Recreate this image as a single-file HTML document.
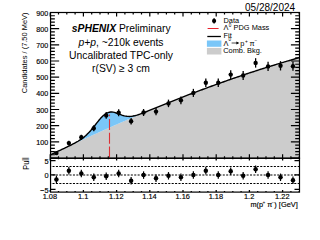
<!DOCTYPE html><html><head><meta charset="utf-8"><style>html,body{margin:0;padding:0;background:#fff;width:315px;height:226px;overflow:hidden}svg{display:block}text{font-family:"Liberation Sans",sans-serif;fill:#000}text.b{stroke:#000;stroke-width:0.15px}</style></head><body>
<svg width="315" height="226" viewBox="0 0 315 226">
<rect width="315" height="226" fill="#fff"/>
<polygon points="50.55,158.0 50.55,154.81 51.80,154.21 53.05,153.62 54.30,153.02 55.55,152.42 56.81,151.83 58.06,151.24 59.31,150.64 60.56,150.05 61.81,149.46 63.06,148.87 64.31,148.28 65.56,147.69 66.81,147.10 68.06,146.52 69.32,145.93 70.57,145.35 71.82,144.76 73.07,144.18 74.32,143.60 75.57,143.02 76.82,142.44 78.07,141.86 79.32,141.28 80.57,140.70 81.83,140.12 83.08,139.55 84.33,138.97 85.58,138.40 86.83,137.83 88.08,137.25 89.33,136.68 90.58,136.11 91.83,135.54 93.08,134.98 94.34,134.41 95.59,133.84 96.84,133.28 98.09,132.71 99.34,132.15 100.59,131.59 101.84,131.03 103.09,130.47 104.34,129.91 105.59,129.35 106.85,128.79 108.10,128.24 109.35,127.68 110.60,127.13 111.85,126.57 113.10,126.02 114.35,125.47 115.60,124.92 116.85,124.37 118.10,123.82 119.36,123.28 120.61,122.73 121.86,122.19 123.11,121.64 124.36,121.10 125.61,120.56 126.86,120.02 128.11,119.48 129.36,118.94 130.61,118.40 131.87,117.87 133.12,117.33 134.37,116.80 135.62,116.27 136.87,115.73 138.12,115.20 139.37,114.67 140.62,114.15 141.87,113.62 143.12,113.09 144.38,112.57 145.63,112.04 146.88,111.52 148.13,111.00 149.38,110.48 150.63,109.96 151.88,109.44 153.13,108.93 154.38,108.41 155.63,107.90 156.89,107.38 158.14,106.87 159.39,106.36 160.64,105.85 161.89,105.34 163.14,104.83 164.39,104.33 165.64,103.82 166.89,103.32 168.14,102.82 169.40,102.31 170.65,101.81 171.90,101.32 173.15,100.82 174.40,100.32 175.65,99.83 176.90,99.33 178.15,98.84 179.40,98.35 180.65,97.86 181.91,97.37 183.16,96.88 184.41,96.39 185.66,95.91 186.91,95.43 188.16,94.94 189.41,94.46 190.66,93.98 191.91,93.50 193.16,93.03 194.42,92.55 195.67,92.07 196.92,91.60 198.17,91.13 199.42,90.66 200.67,90.19 201.92,89.72 203.17,89.25 204.42,88.79 205.67,88.32 206.93,87.86 208.18,87.40 209.43,86.94 210.68,86.48 211.93,86.02 213.18,85.57 214.43,85.11 215.68,84.66 216.93,84.21 218.18,83.75 219.44,83.31 220.69,82.86 221.94,82.41 223.19,81.97 224.44,81.52 225.69,81.08 226.94,80.64 228.19,80.20 229.44,79.76 230.69,79.32 231.95,78.89 233.20,78.45 234.45,78.02 235.70,77.59 236.95,77.16 238.20,76.73 239.45,76.31 240.70,75.88 241.95,75.46 243.20,75.04 244.46,74.61 245.71,74.19 246.96,73.78 248.21,73.36 249.46,72.95 250.71,72.53 251.96,72.12 253.21,71.71 254.46,71.30 255.71,70.89 256.97,70.49 258.22,70.08 259.47,69.68 260.72,69.28 261.97,68.88 263.22,68.48 264.47,68.08 265.72,67.69 266.97,67.29 268.22,66.90 269.48,66.51 270.73,66.12 271.98,65.73 273.23,65.34 274.48,64.96 275.73,64.58 276.98,64.20 278.23,63.82 279.48,63.44 280.73,63.06 281.99,62.68 283.24,62.31 284.49,61.94 285.74,61.57 286.99,61.20 288.24,60.83 289.49,60.47 290.74,60.10 291.99,59.74 293.24,59.38 294.50,59.02 295.75,58.66 297.00,58.31 298.25,57.95 299.50,57.60 299.5,158.0" fill="#cccccc"/>
<polygon points="50.55,154.81 51.30,154.45 52.05,154.09 52.81,153.73 53.56,153.38 54.31,153.02 55.06,152.66 55.81,152.30 56.56,151.94 57.32,151.59 58.07,151.23 58.82,150.87 59.57,150.52 60.32,150.16 61.07,149.80 61.83,149.45 62.58,149.09 63.33,148.73 64.08,148.38 64.83,148.02 65.58,147.66 66.34,147.30 67.09,146.94 67.84,146.58 68.59,146.22 69.34,145.85 70.09,145.48 70.85,145.11 71.60,144.74 72.35,144.36 73.10,143.98 73.85,143.59 74.60,143.19 75.36,142.79 76.11,142.37 76.86,141.95 77.61,141.51 78.36,141.06 79.11,140.60 79.87,140.12 80.62,139.62 81.37,139.10 82.12,138.56 82.87,138.00 83.62,137.41 84.38,136.80 85.13,136.16 85.88,135.49 86.63,134.80 87.38,134.07 88.13,133.32 88.89,132.53 89.64,131.72 90.39,130.88 91.14,130.01 91.89,129.12 92.64,128.21 93.40,127.28 94.15,126.33 94.90,125.37 95.65,124.41 96.40,123.45 97.15,122.49 97.91,121.54 98.66,120.61 99.41,119.70 100.16,118.82 100.91,117.98 101.66,117.17 102.42,116.41 103.17,115.70 103.92,115.04 104.67,114.45 105.42,113.91 106.17,113.44 106.93,113.04 107.68,112.70 108.43,112.44 109.18,112.24 109.93,112.10 110.68,112.02 111.44,112.01 112.19,112.05 112.94,112.14 113.69,112.28 114.44,112.45 115.19,112.66 115.95,112.90 116.70,113.17 117.45,113.44 118.20,113.73 118.95,114.03 119.70,114.32 120.46,114.61 121.21,114.89 121.96,115.15 122.71,115.40 123.46,115.62 124.21,115.82 124.97,115.99 125.72,116.14 126.47,116.26 127.22,116.35 127.97,116.41 128.72,116.43 129.48,116.44 130.23,116.41 130.98,116.35 131.73,116.27 132.48,116.17 133.23,116.04 133.99,115.89 134.74,115.72 135.49,115.54 136.24,115.34 136.99,115.12 137.74,114.89 138.50,114.65 139.25,114.39 140.00,114.13 140.00,114.41 139.25,114.73 138.50,115.04 137.74,115.36 136.99,115.68 136.24,116.00 135.49,116.32 134.74,116.64 133.99,116.96 133.23,117.28 132.48,117.60 131.73,117.92 130.98,118.25 130.23,118.57 129.48,118.89 128.72,119.21 127.97,119.54 127.22,119.86 126.47,120.19 125.72,120.51 124.97,120.84 124.21,121.16 123.46,121.49 122.71,121.81 121.96,122.14 121.21,122.47 120.46,122.80 119.70,123.12 118.95,123.45 118.20,123.78 117.45,124.11 116.70,124.44 115.95,124.77 115.19,125.10 114.44,125.43 113.69,125.76 112.94,126.09 112.19,126.42 111.44,126.76 110.68,127.09 109.93,127.42 109.18,127.75 108.43,128.09 107.68,128.42 106.93,128.76 106.17,129.09 105.42,129.42 104.67,129.76 103.92,130.10 103.17,130.43 102.42,130.77 101.66,131.11 100.91,131.44 100.16,131.78 99.41,132.12 98.66,132.46 97.91,132.79 97.15,133.13 96.40,133.47 95.65,133.81 94.90,134.15 94.15,134.49 93.40,134.83 92.64,135.18 91.89,135.52 91.14,135.86 90.39,136.20 89.64,136.54 88.89,136.89 88.13,137.23 87.38,137.57 86.63,137.92 85.88,138.26 85.13,138.61 84.38,138.95 83.62,139.30 82.87,139.64 82.12,139.99 81.37,140.33 80.62,140.68 79.87,141.03 79.11,141.37 78.36,141.72 77.61,142.07 76.86,142.42 76.11,142.77 75.36,143.12 74.60,143.47 73.85,143.81 73.10,144.16 72.35,144.51 71.60,144.87 70.85,145.22 70.09,145.57 69.34,145.92 68.59,146.27 67.84,146.62 67.09,146.98 66.34,147.33 65.58,147.68 64.83,148.04 64.08,148.39 63.33,148.74 62.58,149.10 61.83,149.45 61.07,149.81 60.32,150.16 59.57,150.52 58.82,150.88 58.07,151.23 57.32,151.59 56.56,151.95 55.81,152.30 55.06,152.66 54.31,153.02 53.56,153.38 52.81,153.73 52.05,154.09 51.30,154.45 50.55,154.81" fill="#7ac6f8"/>
<line x1="109.5" y1="157.6" x2="109.5" y2="114.4" stroke="#dc3034" stroke-width="1.1" stroke-dasharray="11 2.8"/>
<polyline points="50.55,154.81 51.80,154.21 53.05,153.62 54.30,153.02 55.55,152.42 56.81,151.83 58.06,151.23 59.31,150.64 60.56,150.05 61.81,149.45 63.06,148.86 64.31,148.27 65.56,147.67 66.81,147.07 68.06,146.47 69.32,145.86 70.57,145.25 71.82,144.63 73.07,143.99 74.32,143.34 75.57,142.67 76.82,141.97 78.07,141.24 79.32,140.46 80.57,139.65 81.83,138.78 83.08,137.84 84.33,136.84 85.58,135.76 86.83,134.61 88.08,133.37 89.33,132.05 90.58,130.66 91.83,129.19 93.08,127.66 94.34,126.09 95.59,124.50 96.84,122.90 98.09,121.32 99.34,119.79 100.59,118.34 101.84,116.99 103.09,115.77 104.34,114.70 105.59,113.80 106.85,113.08 108.10,112.55 109.35,112.20 110.60,112.03 111.85,112.02 113.10,112.17 114.35,112.43 115.60,112.79 116.85,113.22 118.10,113.70 119.36,114.19 120.61,114.67 121.86,115.12 123.11,115.52 124.36,115.86 125.61,116.12 126.86,116.31 128.11,116.41 129.36,116.44 130.61,116.38 131.87,116.26 133.12,116.06 134.37,115.81 135.62,115.50 136.87,115.15 138.12,114.77 139.37,114.35 140.62,113.91 141.87,113.45 143.12,112.97 144.38,112.48 145.63,111.98 146.88,111.48 148.13,110.97 149.38,110.46 150.63,109.95 151.88,109.43 153.13,108.92 154.38,108.41 155.63,107.89 156.89,107.38 158.14,106.87 159.39,106.36 160.64,105.85 161.89,105.34 163.14,104.83 164.39,104.33 165.64,103.82 166.89,103.32 168.14,102.82 169.40,102.31 170.65,101.81 171.90,101.32 173.15,100.82 174.40,100.32 175.65,99.83 176.90,99.33 178.15,98.84 179.40,98.35 180.65,97.86 181.91,97.37 183.16,96.88 184.41,96.39 185.66,95.91 186.91,95.43 188.16,94.94 189.41,94.46 190.66,93.98 191.91,93.50 193.16,93.03 194.42,92.55 195.67,92.07 196.92,91.60 198.17,91.13 199.42,90.66 200.67,90.19 201.92,89.72 203.17,89.25 204.42,88.79 205.67,88.32 206.93,87.86 208.18,87.40 209.43,86.94 210.68,86.48 211.93,86.02 213.18,85.57 214.43,85.11 215.68,84.66 216.93,84.21 218.18,83.75 219.44,83.31 220.69,82.86 221.94,82.41 223.19,81.97 224.44,81.52 225.69,81.08 226.94,80.64 228.19,80.20 229.44,79.76 230.69,79.32 231.95,78.89 233.20,78.45 234.45,78.02 235.70,77.59 236.95,77.16 238.20,76.73 239.45,76.31 240.70,75.88 241.95,75.46 243.20,75.04 244.46,74.61 245.71,74.19 246.96,73.78 248.21,73.36 249.46,72.95 250.71,72.53 251.96,72.12 253.21,71.71 254.46,71.30 255.71,70.89 256.97,70.49 258.22,70.08 259.47,69.68 260.72,69.28 261.97,68.88 263.22,68.48 264.47,68.08 265.72,67.69 266.97,67.29 268.22,66.90 269.48,66.51 270.73,66.12 271.98,65.73 273.23,65.34 274.48,64.96 275.73,64.58 276.98,64.20 278.23,63.82 279.48,63.44 280.73,63.06 281.99,62.68 283.24,62.31 284.49,61.94 285.74,61.57 286.99,61.20 288.24,60.83 289.49,60.47 290.74,60.10 291.99,59.74 293.24,59.38 294.50,59.02 295.75,58.66 297.00,58.31 298.25,57.95 299.50,57.60" fill="none" stroke="#000" stroke-width="1.4" stroke-linejoin="round"/>
<line x1="56.42" y1="151.41" x2="56.42" y2="154.79" stroke="#000" stroke-width="1.3"/>
<circle cx="56.42" cy="153.1" r="2.2"/>
<line x1="68.87" y1="140.75" x2="68.87" y2="145.45" stroke="#000" stroke-width="1.3"/>
<circle cx="68.87" cy="143.1" r="2.2"/>
<line x1="81.32" y1="134.67" x2="81.32" y2="139.93" stroke="#000" stroke-width="1.3"/>
<circle cx="81.32" cy="137.3" r="2.2"/>
<line x1="93.77" y1="125.21" x2="93.77" y2="131.19" stroke="#000" stroke-width="1.3"/>
<circle cx="93.77" cy="128.2" r="2.2"/>
<line x1="106.22" y1="111.98" x2="106.22" y2="118.82" stroke="#000" stroke-width="1.3"/>
<circle cx="106.22" cy="115.4" r="2.2"/>
<line x1="118.68" y1="109.30" x2="118.68" y2="116.30" stroke="#000" stroke-width="1.3"/>
<circle cx="118.68" cy="112.8" r="2.2"/>
<line x1="131.12" y1="118.06" x2="131.12" y2="124.54" stroke="#000" stroke-width="1.3"/>
<circle cx="131.12" cy="121.3" r="2.2"/>
<line x1="143.57" y1="108.99" x2="143.57" y2="116.01" stroke="#000" stroke-width="1.3"/>
<circle cx="143.57" cy="112.5" r="2.2"/>
<line x1="156.02" y1="108.06" x2="156.02" y2="115.14" stroke="#000" stroke-width="1.3"/>
<circle cx="156.02" cy="111.6" r="2.2"/>
<line x1="168.48" y1="99.63" x2="168.48" y2="107.17" stroke="#000" stroke-width="1.3"/>
<circle cx="168.48" cy="103.4" r="2.2"/>
<line x1="180.92" y1="96.45" x2="180.92" y2="104.15" stroke="#000" stroke-width="1.3"/>
<circle cx="180.92" cy="100.3" r="2.2"/>
<line x1="193.37" y1="88.86" x2="193.37" y2="96.94" stroke="#000" stroke-width="1.3"/>
<circle cx="193.37" cy="92.9" r="2.2"/>
<line x1="205.82" y1="78.51" x2="205.82" y2="87.09" stroke="#000" stroke-width="1.3"/>
<circle cx="205.82" cy="82.8" r="2.2"/>
<line x1="218.27" y1="78.51" x2="218.27" y2="87.09" stroke="#000" stroke-width="1.3"/>
<circle cx="218.27" cy="82.8" r="2.2"/>
<line x1="230.72" y1="70.13" x2="230.72" y2="79.07" stroke="#000" stroke-width="1.3"/>
<circle cx="230.72" cy="74.6" r="2.2"/>
<line x1="243.17" y1="71.05" x2="243.17" y2="79.95" stroke="#000" stroke-width="1.3"/>
<circle cx="243.17" cy="75.5" r="2.2"/>
<line x1="255.62" y1="58.18" x2="255.62" y2="67.62" stroke="#000" stroke-width="1.3"/>
<circle cx="255.62" cy="62.9" r="2.2"/>
<line x1="268.07" y1="61.75" x2="268.07" y2="71.05" stroke="#000" stroke-width="1.3"/>
<circle cx="268.07" cy="66.4" r="2.2"/>
<line x1="280.52" y1="61.14" x2="280.52" y2="70.46" stroke="#000" stroke-width="1.3"/>
<circle cx="280.52" cy="65.8" r="2.2"/>
<line x1="292.97" y1="61.55" x2="292.97" y2="70.85" stroke="#000" stroke-width="1.3"/>
<circle cx="292.97" cy="66.2" r="2.2"/>
<rect x="50.55" y="12.5" width="248.95" height="145.75" fill="none" stroke="#000" stroke-width="1.2"/>
<path d="M50.55,158.00h8.6M299.5,158.00h-8.6M50.55,154.77h4.3M299.5,154.77h-4.3M50.55,151.53h4.3M299.5,151.53h-4.3M50.55,148.30h4.3M299.5,148.30h-4.3M50.55,145.07h4.3M299.5,145.07h-4.3M50.55,141.83h8.6M299.5,141.83h-8.6M50.55,138.60h4.3M299.5,138.60h-4.3M50.55,135.37h4.3M299.5,135.37h-4.3M50.55,132.13h4.3M299.5,132.13h-4.3M50.55,128.90h4.3M299.5,128.90h-4.3M50.55,125.67h8.6M299.5,125.67h-8.6M50.55,122.43h4.3M299.5,122.43h-4.3M50.55,119.20h4.3M299.5,119.20h-4.3M50.55,115.97h4.3M299.5,115.97h-4.3M50.55,112.73h4.3M299.5,112.73h-4.3M50.55,109.50h8.6M299.5,109.50h-8.6M50.55,106.27h4.3M299.5,106.27h-4.3M50.55,103.03h4.3M299.5,103.03h-4.3M50.55,99.80h4.3M299.5,99.80h-4.3M50.55,96.57h4.3M299.5,96.57h-4.3M50.55,93.33h8.6M299.5,93.33h-8.6M50.55,90.10h4.3M299.5,90.10h-4.3M50.55,86.87h4.3M299.5,86.87h-4.3M50.55,83.63h4.3M299.5,83.63h-4.3M50.55,80.40h4.3M299.5,80.40h-4.3M50.55,77.17h8.6M299.5,77.17h-8.6M50.55,73.93h4.3M299.5,73.93h-4.3M50.55,70.70h4.3M299.5,70.70h-4.3M50.55,67.47h4.3M299.5,67.47h-4.3M50.55,64.23h4.3M299.5,64.23h-4.3M50.55,61.00h8.6M299.5,61.00h-8.6M50.55,57.77h4.3M299.5,57.77h-4.3M50.55,54.53h4.3M299.5,54.53h-4.3M50.55,51.30h4.3M299.5,51.30h-4.3M50.55,48.07h4.3M299.5,48.07h-4.3M50.55,44.83h8.6M299.5,44.83h-8.6M50.55,41.60h4.3M299.5,41.60h-4.3M50.55,38.37h4.3M299.5,38.37h-4.3M50.55,35.13h4.3M299.5,35.13h-4.3M50.55,31.90h4.3M299.5,31.90h-4.3M50.55,28.67h8.6M299.5,28.67h-8.6M50.55,25.43h4.3M299.5,25.43h-4.3M50.55,22.20h4.3M299.5,22.20h-4.3M50.55,18.97h4.3M299.5,18.97h-4.3M50.55,15.73h4.3M299.5,15.73h-4.3M50.55,12.50h8.6M299.5,12.50h-8.6M50.20,12.5v4M50.20,158.25v-4M58.50,12.5v2M58.50,158.25v-2M66.80,12.5v2M66.80,158.25v-2M75.10,12.5v2M75.10,158.25v-2M83.40,12.5v4M83.40,158.25v-4M91.70,12.5v2M91.70,158.25v-2M100.00,12.5v2M100.00,158.25v-2M108.30,12.5v2M108.30,158.25v-2M116.60,12.5v4M116.60,158.25v-4M124.90,12.5v2M124.90,158.25v-2M133.20,12.5v2M133.20,158.25v-2M141.50,12.5v2M141.50,158.25v-2M149.80,12.5v4M149.80,158.25v-4M158.10,12.5v2M158.10,158.25v-2M166.40,12.5v2M166.40,158.25v-2M174.70,12.5v2M174.70,158.25v-2M183.00,12.5v4M183.00,158.25v-4M191.30,12.5v2M191.30,158.25v-2M199.60,12.5v2M199.60,158.25v-2M207.90,12.5v2M207.90,158.25v-2M216.20,12.5v4M216.20,158.25v-4M224.50,12.5v2M224.50,158.25v-2M232.80,12.5v2M232.80,158.25v-2M241.10,12.5v2M241.10,158.25v-2M249.40,12.5v4M249.40,158.25v-4M257.70,12.5v2M257.70,158.25v-2M266.00,12.5v2M266.00,158.25v-2M274.30,12.5v2M274.30,158.25v-2M282.60,12.5v4M282.60,158.25v-4M290.90,12.5v2M290.90,158.25v-2M299.20,12.5v2M299.20,158.25v-2" stroke="#000" stroke-width="1.2" fill="none"/>
<text class="b" transform="translate(48.1,144.93) scale(1,1.08)" font-size="7.1" text-anchor="end">100</text>
<text class="b" transform="translate(48.1,128.77) scale(1,1.08)" font-size="7.1" text-anchor="end">200</text>
<text class="b" transform="translate(48.1,112.60) scale(1,1.08)" font-size="7.1" text-anchor="end">300</text>
<text class="b" transform="translate(48.1,96.43) scale(1,1.08)" font-size="7.1" text-anchor="end">400</text>
<text class="b" transform="translate(48.1,80.27) scale(1,1.08)" font-size="7.1" text-anchor="end">500</text>
<text class="b" transform="translate(48.1,64.10) scale(1,1.08)" font-size="7.1" text-anchor="end">600</text>
<text class="b" transform="translate(48.1,47.93) scale(1,1.08)" font-size="7.1" text-anchor="end">700</text>
<text class="b" transform="translate(48.1,31.77) scale(1,1.08)" font-size="7.1" text-anchor="end">800</text>
<text class="b" transform="translate(48.1,15.60) scale(1,1.08)" font-size="7.1" text-anchor="end">900</text>
<rect x="50.55" y="158.25" width="248.95" height="33.849999999999994" fill="none" stroke="#000" stroke-width="1.2"/>
<path d="M50.55,160.60h5M299.5,160.60h-5M50.55,174.90h5M299.5,174.90h-5M50.55,189.40h5M299.5,189.40h-5M50.20,158.25v2.2M50.20,192.1v-2.2M58.50,158.25v1.1M58.50,192.1v-1.1M66.80,158.25v1.1M66.80,192.1v-1.1M75.10,158.25v1.1M75.10,192.1v-1.1M83.40,158.25v2.2M83.40,192.1v-2.2M91.70,158.25v1.1M91.70,192.1v-1.1M100.00,158.25v1.1M100.00,192.1v-1.1M108.30,158.25v1.1M108.30,192.1v-1.1M116.60,158.25v2.2M116.60,192.1v-2.2M124.90,158.25v1.1M124.90,192.1v-1.1M133.20,158.25v1.1M133.20,192.1v-1.1M141.50,158.25v1.1M141.50,192.1v-1.1M149.80,158.25v2.2M149.80,192.1v-2.2M158.10,158.25v1.1M158.10,192.1v-1.1M166.40,158.25v1.1M166.40,192.1v-1.1M174.70,158.25v1.1M174.70,192.1v-1.1M183.00,158.25v2.2M183.00,192.1v-2.2M191.30,158.25v1.1M191.30,192.1v-1.1M199.60,158.25v1.1M199.60,192.1v-1.1M207.90,158.25v1.1M207.90,192.1v-1.1M216.20,158.25v2.2M216.20,192.1v-2.2M224.50,158.25v1.1M224.50,192.1v-1.1M232.80,158.25v1.1M232.80,192.1v-1.1M241.10,158.25v1.1M241.10,192.1v-1.1M249.40,158.25v2.2M249.40,192.1v-2.2M257.70,158.25v1.1M257.70,192.1v-1.1M266.00,158.25v1.1M266.00,192.1v-1.1M274.30,158.25v1.1M274.30,192.1v-1.1M282.60,158.25v2.2M282.60,192.1v-2.2M290.90,158.25v1.1M290.90,192.1v-1.1M299.20,158.25v1.1M299.20,192.1v-1.1" stroke="#000" stroke-width="1.3" fill="none"/>
<line x1="50.55" y1="166.50" x2="299.5" y2="166.50" stroke="#000" stroke-width="1.15" stroke-dasharray="2.05 1.355" stroke-dashoffset="1.455"/>
<line x1="50.55" y1="175.00" x2="299.5" y2="175.00" stroke="#000" stroke-width="1.0" stroke-dasharray="2.05 1.355" stroke-dashoffset="1.455"/>
<line x1="50.55" y1="183.45" x2="299.5" y2="183.45" stroke="#000" stroke-width="1.15" stroke-dasharray="2.05 1.355" stroke-dashoffset="1.455"/>
<text class="b" transform="translate(48.6,164.10) scale(1,1.08)" font-size="7.4" text-anchor="end">5</text>
<text class="b" transform="translate(48.6,178.30) scale(1,1.08)" font-size="7.4" text-anchor="end">0</text>
<text class="b" transform="translate(48.6,192.50) scale(1,1.08)" font-size="7.4" text-anchor="end">−5</text>
<line x1="56.42" y1="175.76" x2="56.42" y2="183.24" stroke="#000" stroke-width="1.2"/>
<circle cx="56.42" cy="179.50" r="2.25"/>
<line x1="68.87" y1="166.96" x2="68.87" y2="174.44" stroke="#000" stroke-width="1.2"/>
<circle cx="68.87" cy="170.70" r="2.25"/>
<line x1="81.32" y1="169.66" x2="81.32" y2="177.14" stroke="#000" stroke-width="1.2"/>
<circle cx="81.32" cy="173.40" r="2.25"/>
<line x1="93.77" y1="173.46" x2="93.77" y2="180.94" stroke="#000" stroke-width="1.2"/>
<circle cx="93.77" cy="177.20" r="2.25"/>
<line x1="106.22" y1="172.56" x2="106.22" y2="180.04" stroke="#000" stroke-width="1.2"/>
<circle cx="106.22" cy="176.30" r="2.25"/>
<line x1="118.68" y1="169.66" x2="118.68" y2="177.14" stroke="#000" stroke-width="1.2"/>
<circle cx="118.68" cy="173.40" r="2.25"/>
<line x1="131.12" y1="177.06" x2="131.12" y2="184.54" stroke="#000" stroke-width="1.2"/>
<circle cx="131.12" cy="180.80" r="2.25"/>
<line x1="143.57" y1="171.36" x2="143.57" y2="178.84" stroke="#000" stroke-width="1.2"/>
<circle cx="143.57" cy="175.10" r="2.25"/>
<line x1="156.02" y1="174.56" x2="156.02" y2="182.04" stroke="#000" stroke-width="1.2"/>
<circle cx="156.02" cy="178.30" r="2.25"/>
<line x1="168.48" y1="172.06" x2="168.48" y2="179.54" stroke="#000" stroke-width="1.2"/>
<circle cx="168.48" cy="175.80" r="2.25"/>
<line x1="180.92" y1="173.56" x2="180.92" y2="181.04" stroke="#000" stroke-width="1.2"/>
<circle cx="180.92" cy="177.30" r="2.25"/>
<line x1="193.37" y1="171.36" x2="193.37" y2="178.84" stroke="#000" stroke-width="1.2"/>
<circle cx="193.37" cy="175.10" r="2.25"/>
<line x1="205.82" y1="166.96" x2="205.82" y2="174.44" stroke="#000" stroke-width="1.2"/>
<circle cx="205.82" cy="170.70" r="2.25"/>
<line x1="218.27" y1="171.16" x2="218.27" y2="178.64" stroke="#000" stroke-width="1.2"/>
<circle cx="218.27" cy="174.90" r="2.25"/>
<line x1="230.72" y1="167.56" x2="230.72" y2="175.04" stroke="#000" stroke-width="1.2"/>
<circle cx="230.72" cy="171.30" r="2.25"/>
<line x1="243.17" y1="172.06" x2="243.17" y2="179.54" stroke="#000" stroke-width="1.2"/>
<circle cx="243.17" cy="175.80" r="2.25"/>
<line x1="255.62" y1="165.56" x2="255.62" y2="173.04" stroke="#000" stroke-width="1.2"/>
<circle cx="255.62" cy="169.30" r="2.25"/>
<line x1="268.07" y1="171.36" x2="268.07" y2="178.84" stroke="#000" stroke-width="1.2"/>
<circle cx="268.07" cy="175.10" r="2.25"/>
<line x1="280.52" y1="173.56" x2="280.52" y2="181.04" stroke="#000" stroke-width="1.2"/>
<circle cx="280.52" cy="177.30" r="2.25"/>
<line x1="292.97" y1="176.46" x2="292.97" y2="183.94" stroke="#000" stroke-width="1.2"/>
<circle cx="292.97" cy="180.20" r="2.25"/>
<text transform="translate(49.90,199.10) scale(1,1.06)" font-size="7.4" text-anchor="middle" class="b">1.08</text>
<text transform="translate(83.10,199.10) scale(1,1.06)" font-size="7.4" text-anchor="middle" class="b">1.1</text>
<text transform="translate(116.30,199.10) scale(1,1.06)" font-size="7.4" text-anchor="middle" class="b">1.12</text>
<text transform="translate(149.50,199.10) scale(1,1.06)" font-size="7.4" text-anchor="middle" class="b">1.14</text>
<text transform="translate(182.70,199.10) scale(1,1.06)" font-size="7.4" text-anchor="middle" class="b">1.16</text>
<text transform="translate(215.90,199.10) scale(1,1.06)" font-size="7.4" text-anchor="middle" class="b">1.18</text>
<text transform="translate(249.10,199.10) scale(1,1.06)" font-size="7.4" text-anchor="middle" class="b">1.2</text>
<text transform="translate(282.30,199.10) scale(1,1.06)" font-size="7.4" text-anchor="middle" class="b">1.22</text>
<text transform="translate(250.50,206.70) scale(1,1.07)" font-size="7.3" class="b">m(p</text>
<text transform="translate(262.50,204.20)" font-size="4.8">+</text>
<text transform="translate(267.30,206.70) scale(1,1.07)" font-size="7.3" class="b">π</text>
<text transform="translate(271.50,204.00)" font-size="4.6">−</text>
<text transform="translate(274.30,206.70) scale(1,1.07)" font-size="7.3" class="b" textLength="23.5" lengthAdjust="spacingAndGlyphs">) [GeV]</text>
<text transform="translate(26.9,93.2) rotate(-90) scale(1,1.08)" font-size="7.5" textLength="80.7" lengthAdjust="spacingAndGlyphs">Candidates / (7.50 MeV)</text>
<text transform="translate(28.5,169.8) rotate(-90) scale(1,1.1)" font-size="7.5">Pull</text>
<text transform="translate(295.10,10.60)" font-size="10" text-anchor="end">05/28/2024</text>
<text transform="translate(121.20,32.20) scale(1,1.04)" font-size="10.35" text-anchor="middle"><tspan font-weight="bold" font-style="italic">sPHENIX</tspan> Preliminary</text>
<text transform="translate(121.00,45.60) scale(1,1.04)" font-size="10.35" text-anchor="middle"><tspan font-style="italic">p+p</tspan>, ~210k events</text>
<text transform="translate(121.00,58.80) scale(1,1.04)" font-size="10.35" text-anchor="middle">Uncalibrated TPC-only</text>
<text transform="translate(121.00,71.80) scale(1,1.04)" font-size="10.35" text-anchor="middle">r(SV) ≥ 3 cm</text>
<line x1="214.1" y1="18.2" x2="214.1" y2="23.6" stroke="#000" stroke-width="1.4"/><circle cx="214.1" cy="20.95" r="2.1"/>
<text transform="translate(223.50,22.60) scale(1,1.08)" font-size="7.4">Data</text>
<line x1="207.6" y1="28.5" x2="218.6" y2="28.5" stroke="#e8202a" stroke-width="1"/>
<text transform="translate(223.50,30.40) scale(1,1.08)" font-size="7.4">Λ</text>
<text transform="translate(228.80,26.70) scale(1,1.08)" font-size="4.6">0</text>
<text transform="translate(233.60,30.40) scale(1,1.08)" font-size="7.4">PDG Mass</text>
<line x1="207.3" y1="36.5" x2="220.9" y2="36.5" stroke="#000" stroke-width="1.3"/>
<text transform="translate(223.50,37.80) scale(1,1.08)" font-size="7.4">Fit</text>
<rect x="206.9" y="40.5" width="14.5" height="6.3" fill="#7ac6f8"/>
<text transform="translate(223.50,45.90) scale(1,1.08)" font-size="7.4">Λ</text>
<text transform="translate(228.60,41.20) scale(1,1.08)" font-size="4.6">0</text>
<path d="M231.6,43H237.4" stroke="#000" stroke-width="0.7"/><path d="M236.4,41.5L239.4,43L236.4,44.5Z" fill="#000"/>
<text transform="translate(240.20,45.90) scale(1,1.08)" font-size="7.4">p</text>
<text transform="translate(245.00,42.50)" font-size="4.8">+</text>
<text transform="translate(249.60,45.90) scale(1,1.08)" font-size="7.4">π</text>
<text transform="translate(254.50,42.20)" font-size="4.6">−</text>
<rect x="206.9" y="47.9" width="14.5" height="6.6" fill="#cccccc"/>
<text transform="translate(223.30,52.70) scale(1,1.08)" font-size="7.4" textLength="38.5" lengthAdjust="spacingAndGlyphs">Comb. Bkg.</text>
</svg></body></html>
